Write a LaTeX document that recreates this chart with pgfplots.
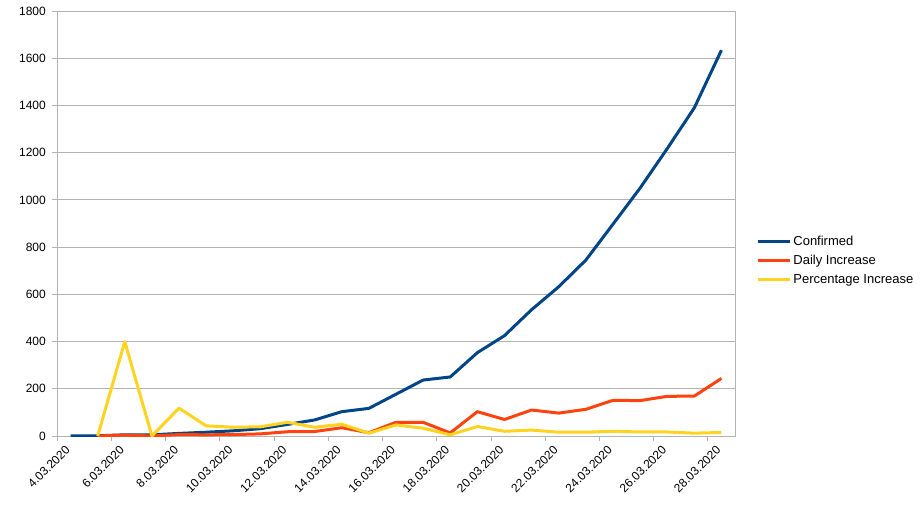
\documentclass[border=0pt]{standalone}
\usepackage{fontspec}
\setmainfont{Liberation Sans}
\usepackage{pgfplots}
\pgfplotsset{compat=1.18}

\definecolor{confblue}{HTML}{004586}
\definecolor{dailyred}{HTML}{FF420E}
\definecolor{pctyellow}{HTML}{FFD320}
\definecolor{gridgray}{HTML}{B3B3B3}

\begin{document}
\fontsize{12}{14}\selectfont
\begin{tikzpicture}[x=1pt,y=1pt]
\path[use as bounding box] (-57,-83) rectangle (866,436);
\begin{axis}[
at={(0,0)}, anchor=south west,
scale only axis,
width=678pt, height=425pt,
xmin=-0.5, xmax=24.5,
ymin=0, ymax=1800,
ytick distance=200,
xtick={-0.5,1.5,...,23.5},
xticklabels={4.03.2020,6.03.2020,8.03.2020,10.03.2020,12.03.2020,14.03.2020,16.03.2020,18.03.2020,20.03.2020,22.03.2020,24.03.2020,26.03.2020,28.03.2020},
xticklabel style={xshift=13.56pt, yshift=-4pt, rotate=45, anchor=east},
yticklabel style={xshift=-2pt},
tick align=outside,
tick pos=left,
major tick length=5pt,
tick style={color=gridgray, line width=0.8pt},
axis line style={gridgray, line width=0.8pt},
ymajorgrids,
y grid style={gridgray, line width=0.8pt},
/pgf/number format/assume math mode=true,
/pgf/number format/1000 sep={},
ticklabel style={font=\fontsize{12}{14}\selectfont},
legend cell align={left},
legend style={at={(rel axis cs:1.032,0.4125)}, anchor=west, draw=none, fill=none,
  inner sep=0pt, row sep=4pt, font=\fontsize{13}{15}\selectfont,
  nodes={inner xsep=1.5pt}},
legend image code/.code={\draw[#1, line width=3pt] (0pt,0pt) -- (32pt,0pt);},
]
\addplot[confblue, line width=3pt, line join=round] coordinates {
(0,0) (1,1) (2,5) (3,5) (4,11) (5,16) (6,22) (7,31) (8,49) (9,68)
(10,103) (11,117) (12,177) (13,237) (14,250) (15,353) (16,425) (17,535)
(18,632) (19,745) (20,897) (21,1050) (22,1217) (23,1390) (24,1634)
};
\addlegendentry{Confirmed}
\addplot[dailyred, line width=3pt, line join=round] coordinates {
(1,0) (2,4) (3,0) (4,6) (5,5) (6,6) (7,9) (8,18) (9,19) (10,35)
(11,14) (12,58) (13,58) (14,13) (15,103) (16,70) (17,110) (18,97)
(19,113) (20,151) (21,150) (22,168) (23,169) (24,244)
};
\addlegendentry{Daily Increase}
\addplot[pctyellow, line width=3pt, line join=round] coordinates {
(1,0) (2,400) (3,0) (4,118) (5,43) (6,37) (7,39) (8,58) (9,37) (10,50)
(11,12) (12,47) (13,33) (14,5) (15,40) (16,20) (17,25) (18,16)
(19,16) (20,20) (21,17) (22,17) (23,12) (24,15)
};
\addlegendentry{Percentage Increase}
\end{axis}
\end{tikzpicture}
\end{document}
